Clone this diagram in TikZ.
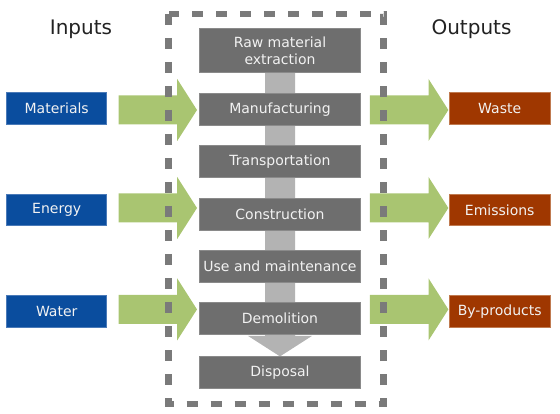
\documentclass[tikz,border=0pt]{standalone}
\usepackage{fontspec}
\setmainfont{DejaVu Sans}
\usetikzlibrary{backgrounds}
\definecolor{procgray}{HTML}{6E6E6E}
\definecolor{procedge}{HTML}{8A8A8A}
\definecolor{arrowgray}{HTML}{B3B3B3}
\definecolor{inblue}{HTML}{0A4D9E}
\definecolor{inedge}{HTML}{4A7AB8}
\definecolor{outred}{HTML}{9F3700}
\definecolor{outedge}{HTML}{C07A50}
\definecolor{agreen}{HTML}{A9C571}
\definecolor{dashgray}{HTML}{7A7A7A}
\definecolor{headcol}{HTML}{222222}
\definecolor{boxtext}{HTML}{F2F2F2}
\begin{document}
\begin{tikzpicture}[x=1pt,y=-1pt,
  proc/.style={fill=procgray, draw=procedge, line width=0.6pt, minimum width=161pt,
    minimum height=32pt, inner sep=0pt, text=boxtext, align=center,
    font=\fontsize{14}{17}\selectfont},
  inbox/.style={fill=inblue, draw=inedge, line width=0.6pt, minimum width=100pt,
    minimum height=31.5pt, inner sep=0pt, text=boxtext,
    font=\fontsize{14}{17}\selectfont},
  outbox/.style={fill=outred, draw=outedge, line width=0.6pt, minimum width=100.5pt,
    minimum height=31.5pt, inner sep=0pt, text=boxtext,
    font=\fontsize{14}{17}\selectfont},
  header/.style={text=headcol, font=\fontsize{20}{24}\selectfont, inner sep=0pt},
  dashline/.style={draw=dashgray, line width=6.5pt, dash pattern=on 11pt off 13pt},
  garrow/.pic={\fill[agreen] (0,-14.5) -- (58.7,-14.5) -- (58.7,-31) -- (78.5,0)
    -- (58.7,31) -- (58.7,14.5) -- (0,14.5) -- cycle;}
]
\useasboundingbox (0,0) rectangle (560,414);

% headers
\node[header] (hin) at (81,29) {Inputs};
\node[header] (hout) at (471.5,29) {Outputs};

% process column
\node[proc, minimum height=44pt] (raw) at (280,50.3) {Raw material\\extraction};
\node[proc] (manu) at (280,109.2) {Manufacturing};
\node[proc] (trans) at (280,161.2) {Transportation};
\node[proc] (constr) at (280,214.2) {Construction};
\node[proc] (use) at (280,266.7) {Use and maintenance};
\node[proc] (demo) at (280,318) {Demolition};
\node[proc] (disp) at (280,372.7) {Disposal};

% big gray flow arrow behind the boxes
\begin{scope}[on background layer]
\fill[arrowgray] ([xshift=-15pt]raw.south) -- ([xshift=-15pt,yshift=20.5pt]disp.north)
  -- ([xshift=-32pt,yshift=20.5pt]disp.north) -- (disp.north)
  -- ([xshift=32pt,yshift=20.5pt]disp.north) -- ([xshift=15pt,yshift=20.5pt]disp.north)
  -- ([xshift=15pt]raw.south) -- cycle;
\end{scope}

% inputs
\node[inbox] (mat) at (56.7,108.3) {Materials};
\node[inbox] (ene) at (56.7,209.8) {Energy};
\node[inbox] (wat) at (56.7,311.2) {Water};

% outputs
\node[outbox] (was) at (499.7,108.3) {Waste};
\node[outbox] (emi) at (499.7,209.8) {Emissions};
\node[outbox] (byp) at (499.7,311.2) {By-products};

% green arrows
\path (mat.east) ++(11.5,1.7) pic {garrow};
\path (ene.east) ++(11.5,-1.8) pic {garrow};
\path (wat.east) ++(11.5,-1.8) pic {garrow};
\path (was.west) ++(-79.3,1.7) pic {garrow};
\path (emi.west) ++(-79.3,-1.8) pic {garrow};
\path (byp.west) ++(-79.3,-1.8) pic {garrow};

% dashed system boundary
\draw[dashline] (168.5,14) rectangle (383.5,404);
\end{tikzpicture}
\end{document}
